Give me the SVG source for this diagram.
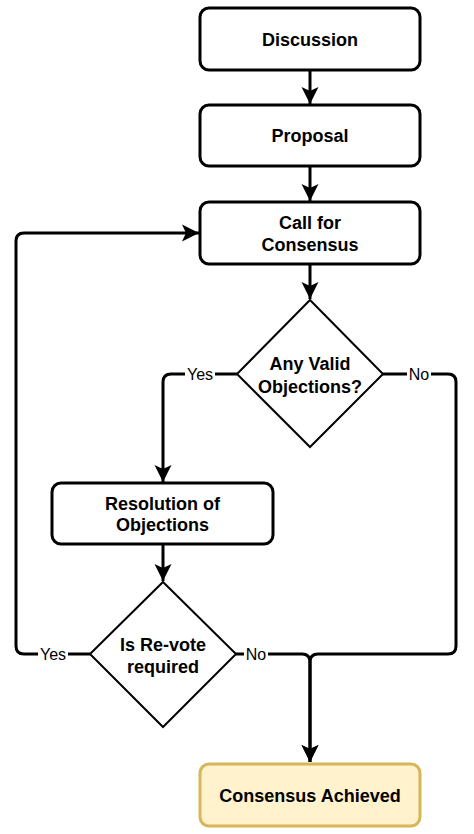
<svg xmlns="http://www.w3.org/2000/svg" width="474" height="834" viewBox="0 0 474 834">
<defs>
<style>
.box{fill:#ffffff;stroke:#000000;stroke-width:3}
.final{fill:#fff2cc;stroke:#d6b656;stroke-width:3}
.dia{fill:#ffffff;stroke:#000000;stroke-width:2}
.t{font-family:"Liberation Sans",Arial,sans-serif;font-size:18px;font-weight:bold;text-anchor:middle;fill:#000}
.lbl{font-family:"Liberation Sans",Arial,sans-serif;font-size:16px;text-anchor:middle;fill:#000}
.edge{fill:none;stroke:#000;stroke-width:3}
</style>
<marker id="arr" viewBox="-18 -10 20 20" refX="0" refY="0" markerWidth="20" markerHeight="20" markerUnits="userSpaceOnUse" orient="auto">
<path d="M-17,-8.5 L0,0 L-17,8.5 L-13,0 Z" fill="#000"/>
</marker>
</defs>
<g id="connectors">
<path class="edge" d="M310,70 L310,104" marker-end="url(#arr)"/>
<path class="edge" d="M310,166 L310,201" marker-end="url(#arr)"/>
<path class="edge" d="M310,264 L310,299" marker-end="url(#arr)"/>
<path class="edge" d="M237,374 L171,374 Q163,374 163,382 L163,482" marker-end="url(#arr)"/>
<path class="edge" d="M383,374 L448,374 Q456,374 456,382 L456,646 Q456,654 448,654 L318,654 Q310,654 310,662 L310,762" marker-end="url(#arr)"/>
<path class="edge" d="M163,544 L163,581" marker-end="url(#arr)"/>
<path class="edge" d="M90,654 L24,654 Q16,654 16,646 L16,241 Q16,233 24,233 L199,233" marker-end="url(#arr)"/>
<path class="edge" d="M236,654 L302,654 Q310,654 310,662 L310,762" marker-end="url(#arr)"/>
<rect x="185" y="365" width="30" height="18" fill="#fff"/>
<text class="lbl" x="200" y="380">Yes</text>
<rect x="407" y="365" width="24" height="18" fill="#fff"/>
<text class="lbl" x="419" y="380">No</text>
<rect x="38" y="645" width="30" height="18" fill="#fff"/>
<text class="lbl" x="53" y="660">Yes</text>
<rect x="244" y="645" width="24" height="18" fill="#fff"/>
<text class="lbl" x="256" y="660">No</text>
</g>
<g id="discussion">
<rect class="box" x="200" y="8" width="220" height="62" rx="9"/>
<text class="t" x="310" y="46">Discussion</text>
</g>
<g id="proposal">
<rect class="box" x="200" y="105" width="220" height="61" rx="9"/>
<text class="t" x="310" y="142">Proposal</text>
</g>
<g id="call">
<rect class="box" x="200" y="202" width="220" height="62" rx="9"/>
<text class="t" x="310" y="229">Call for</text>
<text class="t" x="310" y="251">Consensus</text>
</g>
<g id="valid">
<polygon class="dia" points="310,300 383,374 310,447 237,374"/>
<text class="t" x="310" y="370">Any Valid</text>
<text class="t" x="310" y="393">Objections?</text>
</g>
<g id="resolution">
<rect class="box" x="52" y="483" width="221" height="61" rx="9"/>
<text class="t" x="162.5" y="510">Resolution of</text>
<text class="t" x="162.5" y="531">Objections</text>
</g>
<g id="revote">
<polygon class="dia" points="163,582 236,654 163,727 90,654"/>
<text class="t" x="163" y="651">Is Re-vote</text>
<text class="t" x="163" y="673">required</text>
</g>
<g id="achieved">
<rect class="final" x="200" y="764" width="220" height="62" rx="9"/>
<text class="t" x="310" y="802">Consensus Achieved</text>
</g>
</svg>
